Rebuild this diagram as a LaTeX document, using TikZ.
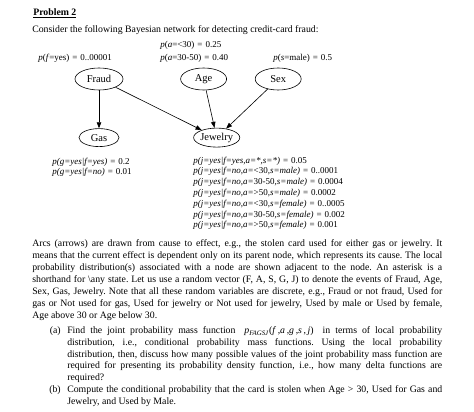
\documentclass[tikz,border=0pt]{standalone}
\usepackage{fontspec}
\setmainfont{Liberation Serif}
\usetikzlibrary{
  arrows.meta,
  positioning,
  shapes.geometric,
}
\newcommand{\yesj}{\textit{p(j=yes|f=no,a=}}

\begin{document}
\begin{tikzpicture}[x=1pt, y=-1pt, line width=0.6pt,
    >={Triangle[length=6pt, width=4.5pt]},
    var/.style={draw, ellipse, inner sep=0pt, minimum width=46pt,
      minimum height=22pt, font=\fontsize{10.5}{12}\selectfont},
    lbl/.style={anchor=base west, inner sep=0pt, align=left, text width=180pt,
      font=\fontsize{9}{10.8}\selectfont},
    txt/.style={anchor=base west, inner sep=0pt, align=justify,
      font=\fontsize{9.8}{12}\selectfont\frenchspacing},
  ]
    \useasboundingbox (0,0) rectangle (474,412);
    \node [txt] (T) at (33,16) {\underline{\textbf{Problem 2}}};
    \node [txt] (C) at (32,33) {Consider the following Bayesian network for detecting credit-card fraud:};
    % the network
    \node [var, minimum width=48pt] (F) at (99,79) {Fraud};
    \node [var, right=57pt of F] (A) {Age};
    \node [var, right=28pt of A] (S) {Sex};
    \node [var, below=38pt of F, minimum width=40pt, minimum height=18pt] (G) {Gas};
    \node [var, right=74pt of G, minimum height=19pt] (J) {Jewelry};
    \draw [->] (F) to (G);
    \draw [->] (F) to (J);
    \draw [->] (A) to (J);
    \draw [->] (S) to (J);
    % local probabilities
    \node [lbl] (PF) at (38,61) {\textit{p}(\textit{f}=yes) = 0..00001};
    \node [lbl] (PA) at (160,48) {\textit{p}(\textit{a}=<30) = 0.25};
    \node [lbl] (PB) at (160,61) {\textit{p}(\textit{a}=30-50) = 0.40};
    \node [lbl] (PS) at (273,61) {\textit{p}(\textit{s}=male) = 0.5};
    \node [lbl] (PG) at (52,164) {\textit{p(g=yes|f=yes)} = 0.2\\
      \textit{p(g=yes|f=no)} = 0.01};
    \node [lbl] (PJ) at (193,163) {\textit{p(j=yes|f=yes,a=*,s=*)} = 0.05\\
      \yesj<30\textit{,s=male)} = 0..0001\\
      \yesj30-50\textit{,s=male)} = 0.0004\\
      \yesj>50\textit{,s=male)} = 0.0002\\
      \yesj<30\textit{,s=female)} = 0..0005\\
      \yesj30-50\textit{,s=female)} = 0.002\\
      \yesj>50\textit{,s=female)} = 0.001};
    % the question
    \node [txt, text width=410pt] (P) at (32,246.5) {Arcs (arrows) are drawn from cause to effect, e.g., the stolen card used for either gas or jewelry. It\linebreak
      means that the current effect is dependent only on its parent node, which represents its cause. The local\linebreak
      probability distribution(s) associated with a node are shown adjacent to the node. An asterisk is a\linebreak
      shorthand for \textbackslash any state. Let us use a random vector (F, A, S, G, J) to denote the events of Fraud, Age,\linebreak
      Sex, Gas, Jewelry. Note that all these random variables are discrete, e.g., Fraud or not fraud, Used for\linebreak
      gas or Not used for gas, Used for jewelry or Not used for jewelry, Used by male or Used by female,\linebreak
      Age above 30 or Age below 30.};
    \node [txt, text width=375pt, font=\fontsize{9.8}{11.8}\selectfont\frenchspacing] (QA) at (67,333.5) {Find the joint probability mass function \hspace{0.4em}\textit{p}\textsubscript{\textit{FAGSJ}}(\textit{f}\,,\textit{a}\,,\textit{g}\,,\textit{s}\,,\,\textit{j})\hspace{0.4em} in terms of local probability\linebreak
      distribution, i.e., conditional probability mass functions. Using the local probability\linebreak
      distribution, then, discuss how many possible values of the joint probability mass function are\linebreak
      required for presenting its probability density function, i.e., how many delta functions are\linebreak
      required?};
    \node [txt, text width=375pt, font=\fontsize{9.8}{11.8}\selectfont\frenchspacing] (QB) at (67,392.5) {Compute the conditional probability that the card is stolen when Age > 30, Used for Gas and\linebreak
      Jewelry, and Used by Male.};
    \node [txt, left=6pt of QA.base west, anchor=base east] (LA) {(a)};
    \node [txt, left=6pt of QB.base west, anchor=base east] (LB) {(b)};
  \end{tikzpicture}
\end{document}
